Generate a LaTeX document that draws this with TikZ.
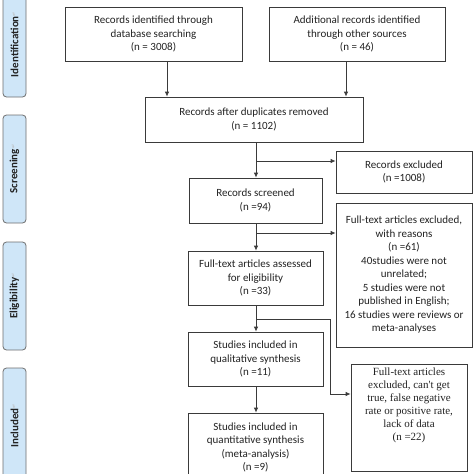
\documentclass[tikz,border=0pt]{standalone}
\usepackage{fontspec}
\setmainfont{Carlito}
\newfontfamily\timesf{Liberation Serif}
\newfontfamily\dejavu{DejaVu Sans}
\usetikzlibrary{arrows.meta}
\definecolor{lblfill}{HTML}{CFE6F8}
\definecolor{lbldraw}{HTML}{6E6E6E}
\definecolor{linec}{HTML}{3A3A3A}
\definecolor{txt}{HTML}{222222}
\newcommand{\pmark}{\raisebox{0.5ex}{\textcolor{gray!55}{\dejavu\fontsize{5}{5}\selectfont ↵}}}
\tikzset{
  box/.style={draw=linec, line width=0.8pt, align=center, inner sep=1pt, text=txt,
    font=\fontsize{11}{13.5}\selectfont},
  arr/.style={draw=linec, line width=0.8pt, -{Latex[length=5pt,width=4.5pt]}},
  ln/.style={draw=linec, line width=0.8pt},
  side/.style={draw=lbldraw, fill=lblfill, line width=0.8pt, rounded corners=3.5pt,
    rotate=90, minimum height=23pt, inner sep=0pt, text=txt,
    font=\fontsize{11}{13}\selectfont\bfseries}
}
\begin{document}
\begin{tikzpicture}[x=1pt,y=1pt]
\useasboundingbox (0,0) rectangle (474,-474);
\begin{scope}
\clip (0,0) rectangle (474,-474);
% side labels
\node[side, minimum width=105pt] (sid) at (14.5,-44.5) {Identification\pmark};
\node[side, minimum width=108pt] (ssc) at (14.5,-169) {Screening\pmark};
\node[side, minimum width=108pt] (sel) at (14.5,-296) {Eligibility\pmark};
\node[side, minimum width=116pt] (sin) at (14.5,-426) {Included\pmark};

% boxes
\node[box, minimum width=177pt, minimum height=54pt] (n1) at (153.5,-34)
  {Records identified through\\database searching\\(n = 3008)};
\node[box, minimum width=176pt, minimum height=54pt] (n2) at (357,-34)
  {Additional records identified\\through other sources\\(n = 46)};
\node[box, minimum width=218pt, minimum height=45pt] (n3) at (254,-119.5)
  {Records after duplicates removed\\(n = 1102)};
\node[box, minimum width=136pt, minimum height=42pt] (n4) at (404,-172)
  {Records excluded\\(n =1008)};
\node[box, minimum width=133pt, minimum height=45pt] (n5) at (255.5,-200.5)
  {Records screened\\(n =94)};
\node[box, minimum width=136pt, minimum height=144pt] (n6) at (404,-275)
  {Full-text articles excluded,\\with reasons\\(n =61)\\40studies were not\\unrelated;\\5 studies were not\\published in English;\\16 studies were reviews or\\meta-analyses};
\node[box, minimum width=135pt, minimum height=54pt] (n7) at (255.5,-278)
  {Full-text articles assessed\\for eligibility\\(n =33)};
\node[box, minimum width=135pt, minimum height=54pt] (n8) at (255.5,-359)
  {Studies included in\\qualitative synthesis\\(n =11)};
\node[box, minimum width=135pt, minimum height=69pt] (n9) at (255.5,-447.5)
  {Studies included in\\quantitative synthesis\\(meta-analysis)\\(n =9)};
\node[draw=linec, line width=0.8pt, inner sep=0pt, text=txt] (n10) at (409,-417.5)
  {\parbox[c][107pt][t]{116pt}{\centering\timesf\fontsize{11}{13}\selectfont\vspace*{4pt}Full-text articles\\excluded, can't get\\true, false negative\\rate or positive rate,\\lack of data\\(n =22)}};

% connectors
\coordinate (c) at (256,0);
\coordinate (b1) at (256,-161);
\coordinate (b2) at (256,-233);
\coordinate (b3) at (256,-319);
\coordinate (k1) at (330,-319);
\coordinate (k2) at (330,-394);

\draw[arr] ([xshift=13.5pt]n1.south) -- ([xshift=13.5pt]n1.south |- n3.north);
\draw[arr] ([xshift=-11pt]n2.south) -- ([xshift=-11pt]n2.south |- n3.north);
\draw[arr] (n3.south -| c) -- (n5.north -| c);
\draw[arr] (b1) -- (b1 -| n4.west);
\draw[arr] (n5.south -| c) -- (n7.north -| c);
\draw[arr] (b2) -- (b2 -| n6.west);
\draw[arr] (n7.south -| c) -- (n8.north -| c);
\draw[ln] (b3) -- (k1) -- (k2);
\draw[arr] (k2) -- (k2 -| n10.west);
\draw[arr] (n8.south -| c) -- (n9.north -| c);
\end{scope}
\end{tikzpicture}
\end{document}
